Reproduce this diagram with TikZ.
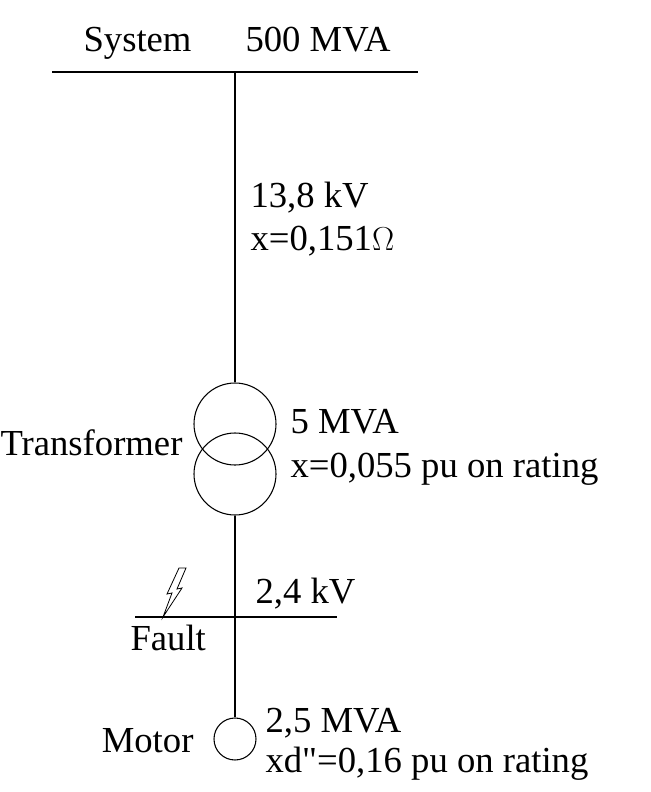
\documentclass[tikz,border=0pt]{standalone}
\usepackage{fontspec}
\setmainfont{Liberation Serif}
\newfontfamily\rawf{Liberation Serif}[Mapping=]
\begin{document}
\begin{tikzpicture}[x=0.75pt,y=-0.75pt,line width=0.8pt,
  lbl/.style={font=\fontsize{27.5}{30}\selectfont,inner sep=0pt}]
\useasboundingbox (0,0) rectangle (650,792);
\coordinate (b1l) at (52,72); \coordinate (b1r) at (418,72);
\draw (b1l) -- (b1r);
\coordinate (b1) at (235,72);
\node[draw,circle,minimum size=82pt*0.75,inner sep=0pt] (t1) at (235,424) {};
\node[draw,circle,minimum size=82pt*0.75,inner sep=0pt] (t2) at (235,474) {};
\draw (b1) -- (t1.north);
\coordinate (b2l) at (135,617); \coordinate (b2r) at (337,617);
\draw (b2l) -- (b2r);
\node[draw,circle,minimum size=42pt*0.75,inner sep=0pt] (m) at (235,739) {};
\draw (t2.south) -- (m.north);
\draw[line width=0.6pt] (163,617) -- (172,593) -- (167,594) -- (179,568) -- (186,568) -- (177,589) -- (182,588) -- cycle;
\node[lbl,anchor=base west] (s) at (83,52) {System};
\node[lbl,anchor=base west] (s2) at (245,52) {500 MVA};
\node[lbl,anchor=base west] (v1) at (250,207) {13,8 kV};
\node[lbl,anchor=base west] (x1) at (250,250) {x=0,151$\Omega$};
\node[lbl,anchor=base east] (tr) at (183,455) {Transformer};
\node[lbl,anchor=base west] (t5) at (290,433) {5 MVA};
\node[lbl,anchor=base west] (tx) at (290,477) {x=0,055 pu on rating};
\node[lbl,anchor=base west] (v2) at (255,603) {2,4 kV};
\node[lbl,anchor=base west] (f) at (130,650) {Fault};
\node[lbl,anchor=base east] (mo) at (194,752) {Motor};
\node[lbl,anchor=base west] (m1) at (265,732) {2,5 MVA};
\node[lbl,anchor=base west] (m2) at (265,772) {xd{\rawf"}=0,16 pu on rating};
\end{tikzpicture}
\end{document}
